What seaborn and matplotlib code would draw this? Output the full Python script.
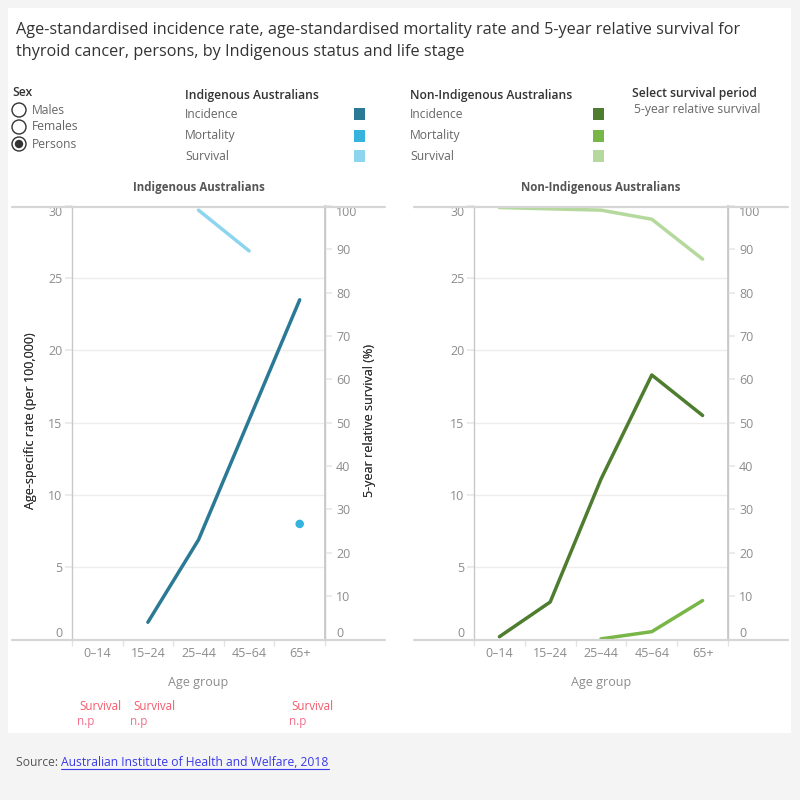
import numpy as np
import pandas as pd
import matplotlib
matplotlib.use("Agg")
import matplotlib.pyplot as plt
import seaborn as sns
from matplotlib.patches import Rectangle, Circle
from matplotlib.lines import Line2D

# ---------------- data ----------------
ages = ["0–14", "15–24", "25–44", "45–64", "65+"]
ind_incidence = [np.nan, 1.2, 6.9, 15.2, 23.5]
ind_mortality = [np.nan, np.nan, np.nan, np.nan, 8.0]
ind_survival = [np.nan, np.nan, 99.0, 89.6, np.nan]
non_incidence = [0.2, 2.6, 11.1, 18.3, 15.5]
non_mortality = [np.nan, np.nan, 0.05, 0.55, 2.7]
non_survival = [99.6, 99.3, 99.0, 96.9, 87.7]
rate_ticks = [0, 5, 10, 15, 20, 25, 30]
surv_ticks = [0, 10, 20, 30, 40, 50, 60, 70, 80, 90, 100]

ind_colors = ["#2b7a95", "#35b3dd", "#8dd5ef"]
non_colors = ["#4e7d30", "#79b648", "#b5d99c"]
legend_items = ["Incidence", "Mortality", "Survival"]

sns.set_theme(style="white")
plt.rcParams["font.family"] = ["Open Sans", "DejaVu Sans"]

W = H = 800
fig = plt.figure(figsize=(8, 8), dpi=100, facecolor="#f4f4f4")


def fx(x):
    return x / W


def fy(y):
    return 1 - y / H


fig.add_artist(Rectangle((fx(8), fy(733)), (791 - 8) / W, (733 - 8) / H,
                         transform=fig.transFigure, facecolor="white",
                         edgecolor="none", zorder=0))

# ---------------- title ----------------
fig.text(fx(16), fy(30), "Age-standardised incidence rate, age-standardised mortality rate and 5-year relative survival for",
         fontsize=11.7, color="#333333", va="center", ha="left")
fig.text(fx(16), fy(52), "thyroid cancer, persons, by Indigenous status and life stage",
         fontsize=11.7, color="#333333", va="center", ha="left")

# ---------------- Sex radio ----------------
fig.text(fx(12), fy(93), "Sex", fontsize=8.7, color="#333333", va="center", fontweight="semibold")
for i, lab in enumerate(["Males", "Females", "Persons"]):
    yy = 110 + i * 17
    fig.add_artist(Circle((fx(19), fy(yy)), 7 / W, transform=fig.transFigure,
                          facecolor="white", edgecolor="#333333", lw=1.0, zorder=3))
    if lab == "Persons":
        fig.add_artist(Circle((fx(19), fy(yy)), 4.2 / W, transform=fig.transFigure,
                              facecolor="#333333", edgecolor="none", zorder=4))
    fig.text(fx(32), fy(yy), lab, fontsize=8.7, color="#666666", va="center")

# ---------------- colour legends ----------------
def legend_block(x_text, x_sq, header, colors):
    fig.text(fx(x_text), fy(95), header, fontsize=8.7, color="#333333",
             va="center", fontweight="semibold")
    for i, (lab, c) in enumerate(zip(legend_items, colors)):
        yy = [114, 136, 156][i]
        fig.text(fx(x_text), fy(yy), lab, fontsize=8.7, color="#666666", va="center")
        fig.add_artist(Rectangle((fx(x_sq), fy(yy + 5.5)), 11 / W, 11 / H,
                                 transform=fig.transFigure, facecolor=c, edgecolor="none"))


legend_block(185, 354, "Indigenous Australians", ind_colors)
legend_block(410, 593, "Non-Indigenous Australians", non_colors)
fig.text(fx(632), fy(93), "Select survival period", fontsize=8.7, color="#333333",
         va="center", fontweight="semibold")
fig.text(fx(634), fy(110), "5-year relative survival", fontsize=8.7, color="#666666", va="center")

# ---------------- panels ----------------
Y0, Y30 = 639.6, 205.8
grey_tick = "#8c8c8c"
FS = 9


def panel(x0, x1, inc, mort, surv, colors, title, frame_x0, frame_x1):
    ax = fig.add_axes([fx(x0), fy(Y0), (x1 - x0) / W, (Y0 - Y30) / H])
    ax.set_facecolor("none")
    pos = np.arange(len(ages))
    df = pd.DataFrame({"pos": pos, "age": ages, "inc": inc, "mort": mort, "surv": surv})

    d = df.dropna(subset=["inc"])
    if len(d) > 1:
        sns.lineplot(data=d, x="pos", y="inc", ax=ax, color=colors[0], lw=2.5,
                     solid_capstyle="round")
    d = df.dropna(subset=["mort"])
    if len(d) > 1:
        sns.lineplot(data=d, x="pos", y="mort", ax=ax, color=colors[1], lw=2.5,
                     solid_capstyle="round")
    else:
        sns.scatterplot(data=d, x="pos", y="mort", ax=ax, color=colors[1], s=38,
                        edgecolor="none")

    ax.set_xlim(-0.5, len(ages) - 0.5)
    ax.set_ylim(0, 30)
    ax.set_yticks(rate_ticks)
    ax.set_yticklabels([str(t) for t in rate_ticks])
    for t in ax.get_yticklabels():
        if t.get_text() == "30":
            t.set_va("top")
        elif t.get_text() == "0":
            t.set_va("bottom")
    ax.set_xticks(pos)
    ax.set_xticklabels(ages)
    ax.set_xticks(np.arange(-0.5, len(ages), 1), minor=True)
    ax.tick_params(axis="x", which="major", length=0, labelsize=FS, labelcolor=grey_tick, pad=5)
    ax.tick_params(axis="x", which="minor", length=4, color="#e3e3e3", width=1, bottom=True)
    ax.tick_params(axis="y", which="major", length=5, color="#e8e8e8", labelsize=FS,
                   labelcolor=grey_tick, pad=2, left=True)
    for yv in rate_ticks[1:-1]:
        ax.axhline(yv, color="#ededed", lw=1, zorder=0)
    for s in ["top", "bottom"]:
        ax.spines[s].set_visible(False)
    for s in ["left", "right"]:
        ax.spines[s].set_color("#c8c8c8")
        ax.spines[s].set_linewidth(1)
    ax.set_xlabel("Age group", fontsize=FS, color=grey_tick, labelpad=12)
    ax.set_ylabel("Age-specific rate (per 100,000)", fontsize=FS, color="#333333")
    ax.yaxis.set_label_coords((37 - x0) / (x1 - x0), (Y0 - 421) / (Y0 - Y30))

    axr = ax.twinx()
    d = df.dropna(subset=["surv"])
    sns.lineplot(data=d, x="pos", y="surv", ax=axr, color=colors[2], lw=2.5,
                 solid_capstyle="round")
    axr.set_xlim(-0.5, len(ages) - 0.5)
    axr.set_ylim(0, 100)
    axr.set_yticks(surv_ticks)
    axr.set_yticklabels([str(t) for t in surv_ticks])
    for t in axr.get_yticklabels():
        if t.get_text() == "100":
            t.set_va("top")
        elif t.get_text() == "0":
            t.set_va("bottom")
    axr.tick_params(axis="y", which="major", length=5, color="#e8e8e8", labelsize=FS,
                    labelcolor=grey_tick, pad=3, right=True)
    for s in ["top", "bottom", "left"]:
        axr.spines[s].set_visible(False)
    axr.spines["right"].set_color("#c8c8c8")
    axr.grid(False)
    ax.grid(False)
    axr.set_ylabel("5-year relative survival (%)", fontsize=FS, color="#333333")
    axr.yaxis.set_label_coords((363 - x0) / (x1 - x0), (Y0 - 421) / (Y0 - Y30))

    # frame lines (top / bottom) spanning panel width
    for yy in [207, Y0]:
        fig.add_artist(Line2D([fx(frame_x0), fx(frame_x1)], [fy(yy), fy(yy)],
                              transform=fig.transFigure, color="#d6d6d6", lw=1.6))
    fig.text(fx((frame_x0 + frame_x1) / 2), fy(188), title, fontsize=8.3, color="#555555",
             ha="center", va="center", fontweight="bold")
    return ax


panel(72, 325, ind_incidence, ind_mortality, ind_survival, ind_colors,
      "Indigenous Australians", 12, 385)
panel(474, 728, non_incidence, non_mortality, non_survival, non_colors,
      "Non-Indigenous Australians", 414, 788)

# ---------------- not-published notes ----------------
note_red = "#f25a6a"
for xs, xn in [(79, 77), (133, 130), (291, 289)]:
    fig.text(fx(xs), fy(706), "Survival", fontsize=8.4, color=note_red, va="center")
    fig.text(fx(xn), fy(721), "n.p", fontsize=8.4, color="#f36f8a", va="center")

# ---------------- source ----------------
src = fig.text(fx(16), fy(763), "Source: ", fontsize=8.7, color="#555555", va="center")
fig.canvas.draw()
r = fig.canvas.get_renderer()
bb = src.get_window_extent(r)
link = fig.text(bb.x1 / W, fy(763), "Australian Institute of Health and Welfare, 2018",
                fontsize=8.7, color="#3a3ae8", va="center")
bb2 = link.get_window_extent(r)
fig.add_artist(Line2D([bb2.x0 / W, bb2.x1 / W], [bb2.y0 / H + 0.001, bb2.y0 / H + 0.001],
                      transform=fig.transFigure, color="#3a3ae8", lw=0.8))

fig.savefig("out.png", dpi=100, facecolor=fig.get_facecolor())
